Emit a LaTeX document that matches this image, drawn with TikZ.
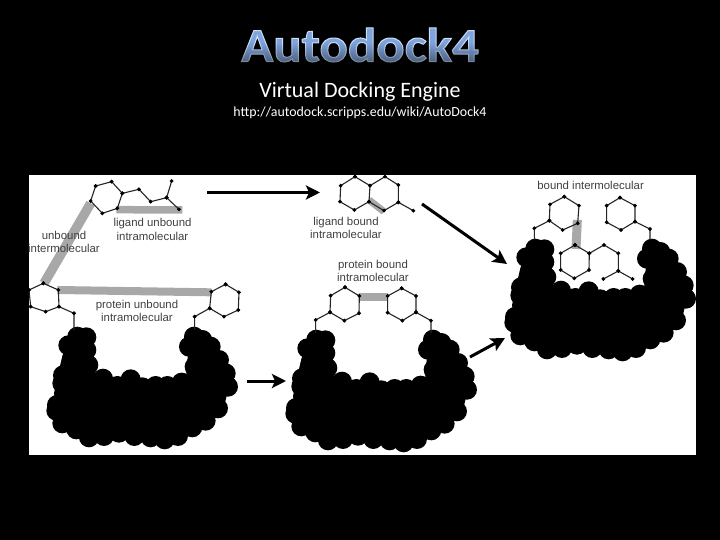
\documentclass[tikz,border=0pt]{standalone}
\usepackage{fontspec}
\setmainfont{Carlito}
\newfontfamily\labelfont{Liberation Sans}
\usetikzlibrary{arrows.meta,fadings}
\definecolor{titleblue}{HTML}{7FA5DF}
\definecolor{bandgray}{HTML}{A8A8A8}
\definecolor{labelgray}{HTML}{404040}
\definecolor{bondgray}{HTML}{262626}
\tikzset{
  panel/.style={fill=white,draw=none},
  band/.style={draw=bandgray,line cap=butt},
  bond/.style={draw=bondgray,line width=1.1pt,mark=*,mark size=1.3pt,mark options={fill=black,draw=black}},
  lbl/.style={font=\labelfont\fontsize{11.4}{13.6}\selectfont,text=labelgray,align=center,inner sep=0pt},
  flow/.style={draw=black,line width=3pt,-{Stealth[length=14pt,width=14pt,inset=3pt]}},
  subtitle/.style={text=white,inner sep=0pt},
}
\newcommand{\molpath}[1]{\draw[bond] plot coordinates {#1};}
\newcommand{\blob}[2]{%
\begin{scope}[shift={(#1,#2)},x=0.3333pt,y=-0.3333pt]
  \fill[black] (140,80)--(190,90)--(200,210)--(470,218)--(480,90)--(560,120)--(600,230)--(580,310)--(490,360)--(400,390)--(180,380)--(80,320)--(85,200)--(110,100)--cycle;
  \foreach \cx/\cy in {145/80,172/82,118/106,172/120,178/165,102/196,128/150,105/250,100/220,84/285,
    82/302,100/340,142/358,180/382,225/378,270/368,316/378,365/382,407/388,447/378,490/352,
    530/332,567/295,597/230,590/190,570/150,545/110,520/90,495/80,480/110,497/170,458/218,
    415/228,380/228,340/232,305/208,265/228,222/206,540/250}
    \fill[black] (\cx,\cy) circle (30);
\end{scope}}
\begin{document}
\begin{tikzpicture}[x=1pt,y=-1pt]
\useasboundingbox (0,0) rectangle (720,540);
\fill[black] (0,0) rectangle (720,540);
\fill[panel] (29,175) rectangle (696,455);

% title
\node[inner sep=0pt,text=titleblue] (title) at (360,45)
  {\special{pdf:code q 2 Tr 1.0 w 0.80 0.87 0.97 RG}\fontsize{48}{54}\selectfont\bfseries\addfontfeature{FakeStretch=1.1}Autodock4\special{pdf:code Q}};
\fill[black,path fading=north,fill opacity=0.5] (230,42) rectangle (490,66);
\node[subtitle,font=\fontsize{22}{26}\selectfont] (sub) at (360,92) {Virtual Docking Engine};
\node[subtitle,font=\fontsize{13.9}{16}\selectfont] (url) at (360,113) {http://autodock.scripps.edu/wiki/AutoDock4};

% protein blobs
\blob{29}{310}
\blob{268}{313}
\blob{487}{222}

% unbound molecules
\begin{scope}[shift={(29,175)},x=0.3333pt,y=-0.3333pt]
  \draw[band,line width=7.5pt] (262,104)--(460,105);
  \draw[band,line width=9.5pt] (185,85)--(45,325);
  \draw[band,line width=8pt] (85,345)--(548,352);
  \molpath{(200,33)(248,20)(280,55)(265,100)(220,115)(185,78)(200,33)}
  \molpath{(280,55)(330,43)(365,80)(413,68)(428,18)}
  \molpath{(413,68)(450,103)}
  \molpath{(43,325)(88,345)(90,395)(50,410)(5,395)(0,345)(43,325)}
  \molpath{(90,395)(135,415)(135,470)}
  \molpath{(590,328)(630,352)(628,405)(585,425)(542,400)(547,350)(590,328)}
  \molpath{(542,400)(497,425)(497,470)}
\end{scope}

% bound molecules
\begin{scope}[shift={(290,170)},x=0.3333pt,y=-0.3333pt]
  \draw[band,line width=7pt] (237,90)--(282,125);
  \draw[band,line width=8pt] (208,380)--(293,380);
  \molpath{(195,20)(240,47)(237,95)(193,120)(150,95)(152,47)(195,20)}
  \molpath{(240,47)(285,20)(325,45)(325,97)(282,122)(237,95)}
  \molpath{(325,97)(370,122)}
  \molpath{(165,352)(208,378)(207,430)(163,452)(120,427)(122,377)(165,352)}
  \molpath{(120,427)(77,450)(77,495)}
  \molpath{(335,355)(378,378)(378,427)(337,452)(293,428)(293,378)(335,355)}
  \molpath{(378,427)(423,452)(423,495)}
\end{scope}

% docked complex
\begin{scope}[shift={(490,175)},x=0.3333pt,y=-0.3333pt]
  \draw[band,line width=9pt] (262,135)--(258,222);
  \molpath{(223,65)(267,92)(263,145)(218,165)(178,137)(180,88)(223,65)}
  \molpath{(178,137)(133,160)(133,200)}
  \molpath{(390,68)(435,92)(435,140)(393,165)(350,142)(350,92)(390,68)}
  \molpath{(435,140)(480,162)(480,200)}
  \molpath{(255,210)(298,235)(297,285)(253,310)(212,285)(212,235)(255,210)}
  \molpath{(298,235)(342,210)(385,235)(385,288)(428,312)}
  \molpath{(385,288)(340,312)}
\end{scope}

% labels
\node[lbl] (ligu) at (152.5,229.5) {ligand unbound\\intramolecular};
\node[lbl] (unb) at (64,242) {unbound\\intermolecular};
\node[lbl] (protu) at (137,311) {protein unbound\\intramolecular};
\node[lbl] (ligb) at (346,228) {ligand bound\\intramolecular};
\node[lbl] (protb) at (373,271) {protein bound\\intramolecular};
\node[lbl] (bint) at (590.6,185) {bound intermolecular};

% flow arrows
\coordinate (a1s) at (207,192.5); \coordinate (a1e) at (320,192.5);
\coordinate (a2s) at (422,204); \coordinate (a2e) at (507,264);
\coordinate (a3s) at (247,381); \coordinate (a3e) at (286,381);
\coordinate (a4s) at (470,357); \coordinate (a4e) at (505,338);
\draw[flow] (a1s) -- (a1e);
\draw[flow] (a2s) -- (a2e);
\draw[flow] (a3s) -- (a3e);
\draw[flow] (a4s) -- (a4e);
\end{tikzpicture}
\end{document}
